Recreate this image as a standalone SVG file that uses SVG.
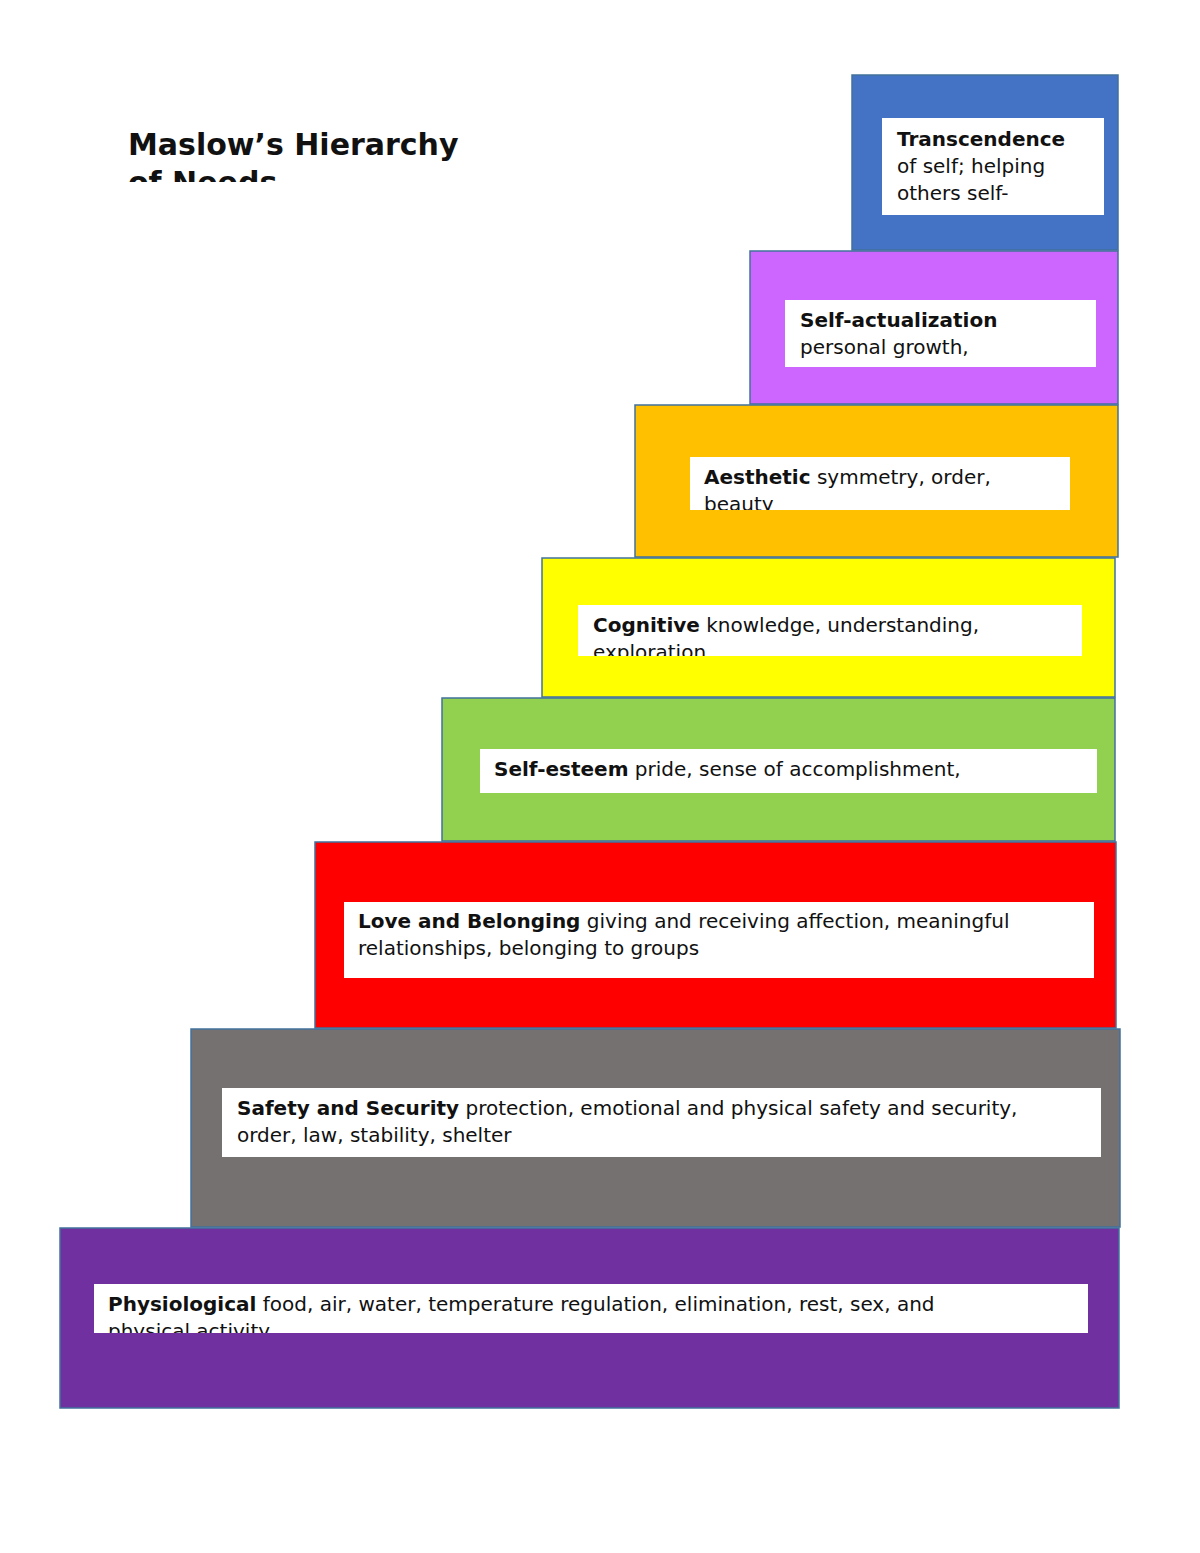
<svg xmlns="http://www.w3.org/2000/svg" width="1200" height="1553" viewBox="0 0 1200 1553">
<style>
.s{stroke:#41719c;stroke-width:1.5}
.w{fill:#fff}
text{font-family:"DejaVu Sans",sans-serif;font-size:20px;fill:#111}
.b{font-weight:bold}
.t{font-size:30px;font-weight:bold}
</style>
<defs>
<clipPath id="ct"><rect x="100" y="100" width="500" height="82"/></clipPath>
<clipPath id="c3"><rect x="690" y="457" width="380" height="53"/></clipPath>
<clipPath id="c4"><rect x="578" y="605" width="504" height="51"/></clipPath>
<clipPath id="c5"><rect x="480" y="749" width="617" height="44"/></clipPath>
<clipPath id="c8"><rect x="94" y="1284" width="994" height="49"/></clipPath>
</defs>
<rect width="1200" height="1553" fill="#fff"/>
<g id="title" clip-path="url(#ct)"><text class="t" x="128" y="155">Maslow’s Hierarchy</text><text class="t" x="128" y="193">of Needs</text></g>
<g id="transcendence"><rect class="s" x="852" y="75" width="266" height="175" fill="#4472C4"/><rect class="w" x="882" y="118" width="222" height="97"/>
<text x="897" y="146"><tspan class="b">Transcendence</tspan></text><text x="897" y="173">of self; helping</text><text x="897" y="200">others self-</text></g>
<g id="selfact"><rect class="s" x="750" y="251" width="368" height="153" fill="#CC66FF"/><rect class="w" x="785" y="300" width="311" height="67"/>
<text x="800" y="327" class="b">Self-actualization</text><text x="800" y="354">personal growth,</text></g>
<g id="aesthetic"><rect class="s" x="635" y="405" width="483" height="152" fill="#FFC000"/><rect class="w" x="690" y="457" width="380" height="53"/>
<g clip-path="url(#c3)"><text x="704" y="484"><tspan class="b">Aesthetic</tspan> symmetry, order,</text><text x="704" y="511">beauty</text></g></g>
<g id="cognitive"><rect class="s" x="542" y="558" width="573" height="139" fill="#FFFF00"/><rect class="w" x="578" y="605" width="504" height="51"/>
<g clip-path="url(#c4)"><text x="593" y="632"><tspan class="b">Cognitive</tspan> knowledge, understanding,</text><text x="593" y="659">exploration</text></g></g>
<g id="esteem"><rect class="s" x="442" y="698" width="673" height="143" fill="#92D050"/><rect class="w" x="480" y="749" width="617" height="44"/>
<g clip-path="url(#c5)"><text x="494" y="776"><tspan class="b">Self-esteem</tspan> pride, sense of accomplishment,</text></g></g>
<g id="love"><rect class="s" x="315" y="842" width="801" height="186" fill="#FF0000"/><rect class="w" x="344" y="902" width="750" height="76"/>
<text x="358" y="928"><tspan class="b">Love and Belonging</tspan> giving and receiving affection, meaningful</text><text x="358" y="955">relationships, belonging to groups</text></g>
<g id="safety"><rect class="s" x="191" y="1029" width="929" height="198" fill="#767171"/><rect class="w" x="222" y="1088" width="879" height="69"/>
<text x="237" y="1115"><tspan class="b">Safety and Security</tspan> protection, emotional and physical safety and security,</text><text x="237" y="1142">order, law, stability, shelter</text></g>
<g id="physio"><rect class="s" x="60" y="1228" width="1059" height="180" fill="#7030A0"/><rect class="w" x="94" y="1284" width="994" height="49"/>
<g clip-path="url(#c8)"><text x="108" y="1311"><tspan class="b">Physiological</tspan> food, air, water, temperature regulation, elimination, rest, sex, and</text><text x="108" y="1338">physical activity</text></g></g>
<g id="connectors"/>
</svg>
